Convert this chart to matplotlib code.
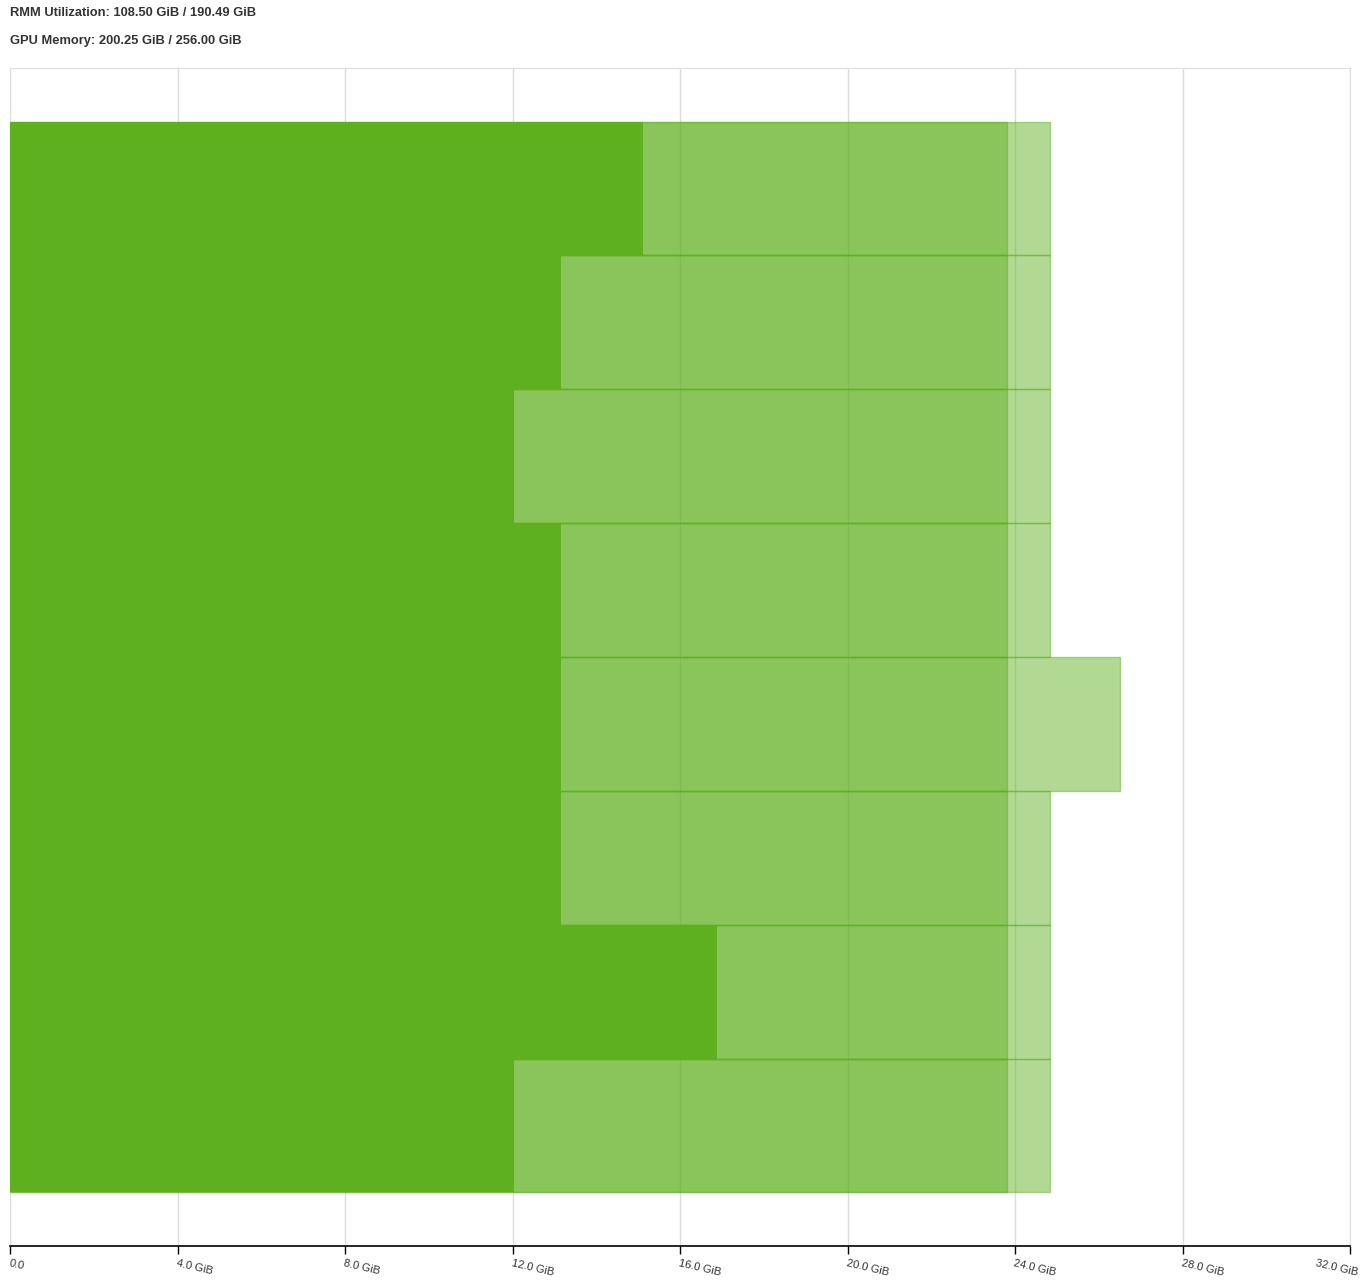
import numpy as np
import matplotlib.pyplot as plt
import matplotlib.transforms as mtransforms

plt.rcParams['font.family'] = ['Liberation Sans', 'DejaVu Sans']

# per-GPU memory (GiB), top row first
used = [15.12, 13.16, 12.04, 13.16, 13.16, 13.16, 16.88, 12.04]
rmm_pool = [23.81, 23.81, 23.81, 23.81, 23.81, 23.81, 23.81, 23.81]
gpu_total = [24.84, 24.84, 24.84, 24.84, 26.51, 24.84, 24.84, 24.84]
ticks = [0, 4, 8, 12, 16, 20, 24, 28, 32]
tick_labels = ['0.0'] + ['%.1f GiB' % t for t in ticks[1:]]

green = '#5eb01e'

fig = plt.figure(figsize=(13.63, 12.83), dpi=100)
ax = fig.add_axes([10 / 1363, 1 - 1246 / 1283, 1340 / 1363, 1178 / 1283])

y = np.arange(len(used))
ax.barh(y, gpu_total, height=1.0, color=green, alpha=0.48,
        edgecolor=green, linewidth=1, zorder=2)
ax.barh(y, rmm_pool, height=1.0, color=green, alpha=0.48,
        edgecolor=green, linewidth=1, zorder=3)
ax.barh(y, used, height=1.0, color=green, linewidth=0, zorder=4)

ax.set_xlim(0, 32)
ax.set_ylim(len(used) - 0.5 + 0.4, -0.5 - 0.4)
ax.set_xticks(ticks)
ax.set_xticklabels(tick_labels, rotation=-13, ha='left', va='top',
                   rotation_mode='anchor', fontsize=8, color='#333333')
ax.set_yticks([])
ax.tick_params(axis='x', length=6, width=1, color='black', pad=3)
ax.grid(axis='x', color='#dddddd', linewidth=1, zorder=1)
ax.set_axisbelow(True)

# last label is pulled back so it stays inside the figure
last = ax.get_xticklabels()[-1]
last.set_transform(last.get_transform() +
                   mtransforms.ScaledTranslation(-0.33, 0, fig.dpi_scale_trans))

for side in ['top', 'left', 'right']:
    ax.spines[side].set_color('#dddddd')
ax.spines['bottom'].set_color('black')
ax.spines['bottom'].set_linewidth(1.2)

fig.text(10 / 1363, 1 - 13 / 1283, 'RMM Utilization: 108.50 GiB / 190.49 GiB',
         fontsize=9.3, fontweight='bold', color='#333333', va='center', ha='left')
fig.text(10 / 1363, 1 - 41 / 1283, 'GPU Memory: 200.25 GiB / 256.00 GiB',
         fontsize=9.3, fontweight='bold', color='#333333', va='center', ha='left')

fig.savefig('out.png', dpi=100)
